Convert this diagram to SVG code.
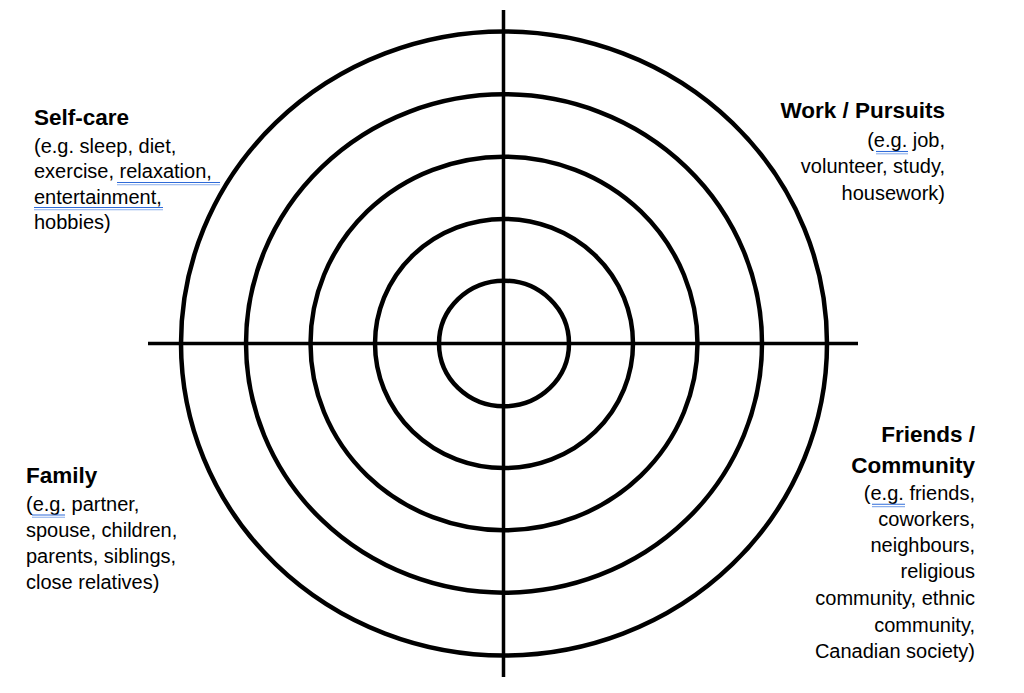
<svg xmlns="http://www.w3.org/2000/svg" width="1024" height="693" viewBox="0 0 1024 693">
<style>
.ring{fill:none;stroke:#000;stroke-width:4.5}
.axis{stroke:#000;stroke-width:3.5}
.h{font-family:"Liberation Sans",Arial,sans-serif;font-weight:bold;font-size:22.5px;fill:#000}
.b{font-family:"Liberation Sans",Arial,sans-serif;font-size:20px;fill:#000}
.r{text-anchor:end}
.u1{stroke:#2f6bd8;stroke-width:1.1}
.u2{stroke:#8aaeec;stroke-width:1.1}
</style>
<rect width="1024" height="693" fill="#fff"/>
<g id="rings">
<ellipse class="ring" cx="504" cy="343.5" rx="65" ry="62.8"/>
<ellipse class="ring" cx="504" cy="343.5" rx="129" ry="124.6"/>
<ellipse class="ring" cx="504" cy="343.5" rx="193.5" ry="186.8"/>
<ellipse class="ring" cx="504" cy="343.5" rx="258" ry="249.2"/>
<ellipse class="ring" cx="504" cy="343.5" rx="323" ry="312"/>
</g>
<g id="connectors">
<line class="axis" x1="503.5" y1="10" x2="503.5" y2="677"/>
<line class="axis" x1="148" y1="343.5" x2="858" y2="343.5"/>
</g>
<g id="self-care">
<text class="h" x="34" y="125">Self-care</text>
<text class="b" x="34" y="153.3">(e.g. sleep, diet,</text>
<text class="b" x="34" y="178.3">exercise, relaxation,</text>
<text class="b" x="34" y="203.5">entertainment,</text>
<text class="b" x="34" y="229.3">hobbies)</text>
<line class="u1" x1="117" y1="182.5" x2="220" y2="182.5"/>
<line class="u2" x1="117" y1="184.8" x2="220" y2="184.8"/>
<line class="u1" x1="34" y1="207.5" x2="163" y2="207.5"/>
<line class="u2" x1="34" y1="209.8" x2="163" y2="209.8"/>
</g>
<g id="work-pursuits">
<text class="h r" x="945" y="118.3">Work / Pursuits</text>
<text class="b r" x="945" y="147.3">(e.g. job,</text>
<text class="b r" x="945" y="173.3">volunteer, study,</text>
<text class="b r" x="945" y="200">housework)</text>
<line class="u1" x1="876" y1="151.5" x2="908" y2="151.5"/>
<line class="u2" x1="876" y1="153.8" x2="908" y2="153.8"/>
</g>
<g id="family">
<text class="h" x="26" y="483.3">Family</text>
<text class="b" x="26" y="510.7">(e.g. partner,</text>
<text class="b" x="26" y="537.3">spouse, children,</text>
<text class="b" x="26" y="563.3">parents, siblings,</text>
<text class="b" x="26" y="589.3">close relatives)</text>
<line class="u1" x1="32" y1="515" x2="65" y2="515"/>
<line class="u2" x1="32" y1="517.3" x2="65" y2="517.3"/>
</g>
<g id="friends-community">
<text class="h r" x="975" y="441.7">Friends /</text>
<text class="h r" x="975" y="473.3">Community</text>
<text class="b r" x="975" y="500">(e.g. friends,</text>
<text class="b r" x="975" y="525.5">coworkers,</text>
<text class="b r" x="975" y="551.7">neighbours,</text>
<text class="b r" x="975" y="578.3">religious</text>
<text class="b r" x="975" y="605">community, ethnic</text>
<text class="b r" x="975" y="631.7">community,</text>
<text class="b r" x="975" y="658.3">Canadian society)</text>
<line class="u1" x1="872" y1="504.3" x2="905" y2="504.3"/>
<line class="u2" x1="872" y1="506.6" x2="905" y2="506.6"/>
</g>
</svg>
